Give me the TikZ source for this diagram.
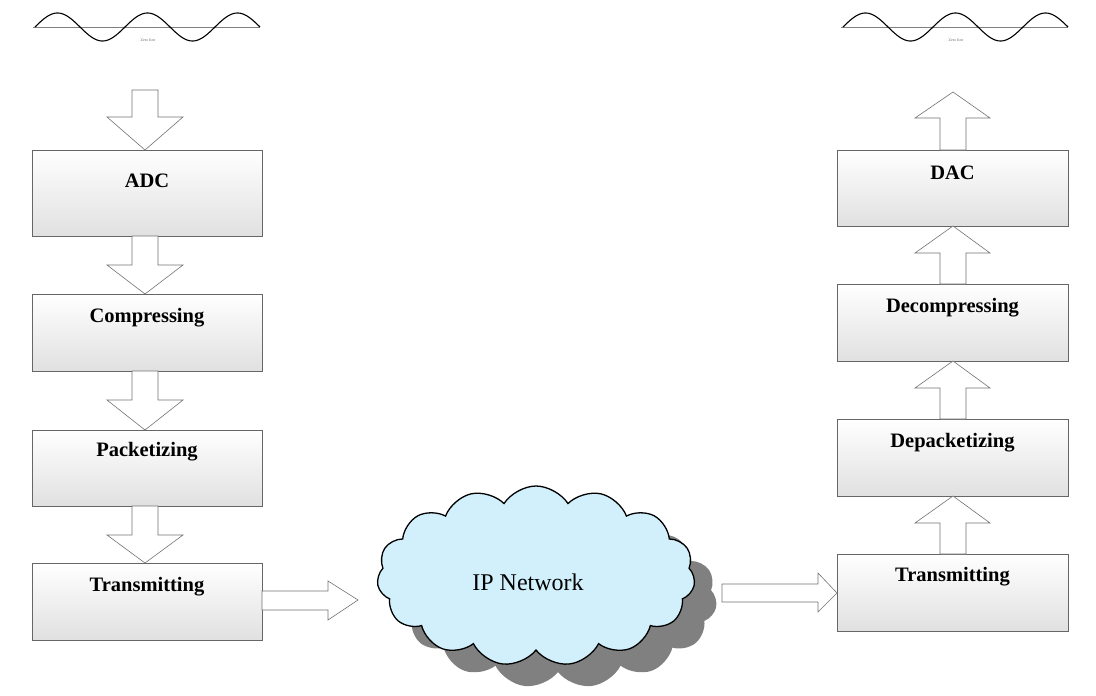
\documentclass[tikz,border=0pt]{standalone}
\usepackage{fontspec}
\setmainfont{Liberation Serif}
\usetikzlibrary{shapes.symbols}
\begin{document}
\begin{tikzpicture}[x=1pt,y=-1pt,
 box/.style={draw=black!60,top color=white,bottom color=black!12,line width=0.6pt,inner sep=0pt,rectangle},
 lbl/.style={font=\bfseries\fontsize{20.5}{22}\selectfont},
 arr/.style={draw=black!55,fill=white,line width=0.6pt},
 wave/.style={line width=1.1pt},
 cl/.style={cloud,cloud puffs=15,cloud puff arc=115,aspect=2.1,minimum width=318,minimum height=180}]
\useasboundingbox (0,0) rectangle (1096,696);
% waves
\foreach \x in {35,843}{
 \draw[black!50,line width=0.4pt] (\x-2,27) -- (\x+225,27);
 \draw[wave,domain=0:225,samples=150,variable=\t] plot ({\x+\t},{27-14*sin(4*\t)});
 \node[font=\fontsize{4}{4}\selectfont,text=black!60] at (\x+113,40) {Zero line};
}
% left boxes
\node[box,minimum width=230,minimum height=86] (adc) at (147,193) {};
\node[lbl] at (147,181) {ADC};
\node[box,minimum width=230,minimum height=77] (cmp) at (147,332.5) {};
\node[lbl] at (147,318) {Compressing};
\node[box,minimum width=230,minimum height=76] (pkt) at (147,468) {};
\node[lbl] at (147,452) {Packetizing};
\node[box,minimum width=230,minimum height=77] (txl) at (147,601.5) {};
\node[lbl] at (147,587) {Transmitting};
% right boxes
\node[box,minimum width=231,minimum height=76] (dac) at (952.5,188) {};
\node[lbl] at (952.5,173) {DAC};
\node[box,minimum width=231,minimum height=77] (dcm) at (952.5,322.5) {};
\node[lbl] at (952.5,308) {Decompressing};
\node[box,minimum width=231,minimum height=77] (dpk) at (952.5,457.5) {};
\node[lbl] at (952.5,443) {Depacketizing};
\node[box,minimum width=231,minimum height=77] (txr) at (952.5,592.5) {};
\node[lbl] at (952.5,577) {Transmitting};
% down arrows (left)
\foreach \a/\h/\b in {90/117/150, 236/265/294, 371/400/430, 506/535/563}{
 \draw[arr] (132,\a) -- (158,\a) -- (158,\h) -- (183,\h) -- (145,\b) -- (107,\h) -- (132,\h) -- cycle;
}
% up arrows (right)
\foreach \a/\h/\b in {150/118/92, 284/253/226, 419/388/361, 554/523/496}{
 \draw[arr] (940,\a) -- (966,\a) -- (966,\h) -- (990,\h) -- (953,\b) -- (915,\h) -- (940,\h) -- cycle;
}
% cloud
\node[cl,fill=black!50] at (558,598) {};
\node[cl,draw=black,line width=1.3pt,fill=cyan!18] (net) at (536,576) {};
\node[font=\fontsize{24}{26}\selectfont] at (528,582) {IP Network};
% horizontal arrows
\draw[arr] (262,591) -- (328,591) -- (328,581) -- (358,600) -- (328,620) -- (328,610) -- (262,610) -- cycle;
\draw[arr] (722,584) -- (818,584) -- (818,573) -- (837,593) -- (818,612) -- (818,602) -- (722,602) -- cycle;
\end{tikzpicture}
\end{document}
